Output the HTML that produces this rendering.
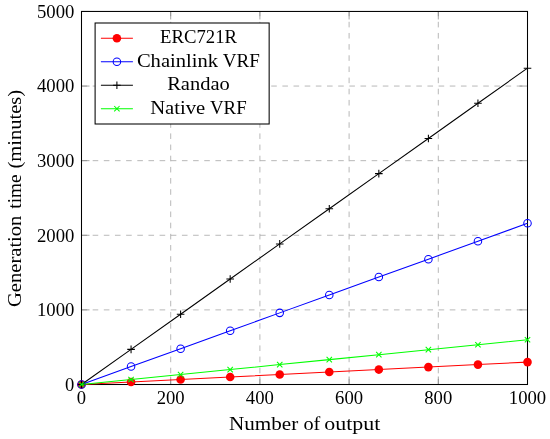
<!DOCTYPE html>
<html lang="en"><head><meta charset="utf-8"><title>Generation time</title>
<style>html,body{margin:0;padding:0;background:#fff}svg{display:block}text{font-family:"Liberation Serif",serif;fill:#000}</style></head><body>
<svg width="550" height="439" viewBox="0 0 550 439">
<rect width="550" height="439" fill="#fff"/>
<path d="M170.70 384.50V11.45M259.90 384.50V11.45M349.10 384.50V11.45M438.30 384.50V11.45M81.50 309.89H527.50M81.50 235.28H527.50M81.50 160.67H527.50M81.50 86.06H527.50" fill="none" stroke="#9c9c9c" stroke-width="0.72" stroke-dasharray="5.58 5.58"/>
<path d="M81.50 384.50v-8M81.50 11.45v8M170.70 384.50v-8M170.70 11.45v8M259.90 384.50v-8M259.90 11.45v8M349.10 384.50v-8M349.10 11.45v8M438.30 384.50v-8M438.30 11.45v8M527.50 384.50v-8M527.50 11.45v8M81.50 384.50h8M527.50 384.50h-8M81.50 309.89h8M527.50 309.89h-8M81.50 235.28h8M527.50 235.28h-8M81.50 160.67h8M527.50 160.67h-8M81.50 86.06h8M527.50 86.06h-8M81.50 11.45h8M527.50 11.45h-8" fill="none" stroke="#6a6a6a" stroke-width="0.6"/>
<rect x="81.5" y="11.45" width="446.0" height="373.05" fill="none" stroke="#000" stroke-width="1.05"/>
<polyline points="81.50,384.50 131.06,382.01 180.61,379.53 230.17,377.04 279.72,374.55 329.28,372.06 378.83,369.58 428.39,367.09 477.94,364.60 527.50,362.12" fill="none" stroke="#ff0000" stroke-width="1.05"/>
<g><circle cx="81.50" cy="384.50" r="4.3" fill="#ff0000"/><circle cx="131.06" cy="382.01" r="4.3" fill="#ff0000"/><circle cx="180.61" cy="379.53" r="4.3" fill="#ff0000"/><circle cx="230.17" cy="377.04" r="4.3" fill="#ff0000"/><circle cx="279.72" cy="374.55" r="4.3" fill="#ff0000"/><circle cx="329.28" cy="372.06" r="4.3" fill="#ff0000"/><circle cx="378.83" cy="369.58" r="4.3" fill="#ff0000"/><circle cx="428.39" cy="367.09" r="4.3" fill="#ff0000"/><circle cx="477.94" cy="364.60" r="4.3" fill="#ff0000"/><circle cx="527.50" cy="362.12" r="4.3" fill="#ff0000"/></g>
<polyline points="81.50,384.50 131.06,366.59 180.61,348.69 230.17,330.78 279.72,312.87 329.28,294.97 378.83,277.06 428.39,259.16 477.94,241.25 527.50,223.34" fill="none" stroke="#0000ff" stroke-width="1.05"/>
<g><circle cx="81.50" cy="384.50" r="3.75" fill="none" stroke="#0000ff" stroke-width="1.05"/><circle cx="131.06" cy="366.59" r="3.75" fill="none" stroke="#0000ff" stroke-width="1.05"/><circle cx="180.61" cy="348.69" r="3.75" fill="none" stroke="#0000ff" stroke-width="1.05"/><circle cx="230.17" cy="330.78" r="3.75" fill="none" stroke="#0000ff" stroke-width="1.05"/><circle cx="279.72" cy="312.87" r="3.75" fill="none" stroke="#0000ff" stroke-width="1.05"/><circle cx="329.28" cy="294.97" r="3.75" fill="none" stroke="#0000ff" stroke-width="1.05"/><circle cx="378.83" cy="277.06" r="3.75" fill="none" stroke="#0000ff" stroke-width="1.05"/><circle cx="428.39" cy="259.16" r="3.75" fill="none" stroke="#0000ff" stroke-width="1.05"/><circle cx="477.94" cy="241.25" r="3.75" fill="none" stroke="#0000ff" stroke-width="1.05"/><circle cx="527.50" cy="223.34" r="3.75" fill="none" stroke="#0000ff" stroke-width="1.05"/></g>
<polyline points="81.50,384.50 131.06,349.35 180.61,314.20 230.17,279.05 279.72,243.90 329.28,208.75 378.83,173.60 428.39,138.45 477.94,103.30 527.50,68.15" fill="none" stroke="#000000" stroke-width="1.05"/>
<g><path d="M77.70 384.50h7.6M81.50 380.70v7.6" stroke="#000000" stroke-width="1.05" fill="none"/><path d="M127.26 349.35h7.6M131.06 345.55v7.6" stroke="#000000" stroke-width="1.05" fill="none"/><path d="M176.81 314.20h7.6M180.61 310.40v7.6" stroke="#000000" stroke-width="1.05" fill="none"/><path d="M226.37 279.05h7.6M230.17 275.25v7.6" stroke="#000000" stroke-width="1.05" fill="none"/><path d="M275.92 243.90h7.6M279.72 240.10v7.6" stroke="#000000" stroke-width="1.05" fill="none"/><path d="M325.48 208.75h7.6M329.28 204.95v7.6" stroke="#000000" stroke-width="1.05" fill="none"/><path d="M375.03 173.60h7.6M378.83 169.80v7.6" stroke="#000000" stroke-width="1.05" fill="none"/><path d="M424.59 138.45h7.6M428.39 134.65v7.6" stroke="#000000" stroke-width="1.05" fill="none"/><path d="M474.14 103.30h7.6M477.94 99.50v7.6" stroke="#000000" stroke-width="1.05" fill="none"/><path d="M523.70 68.15h7.6M527.50 64.35v7.6" stroke="#000000" stroke-width="1.05" fill="none"/></g>
<polyline points="81.50,384.50 131.06,379.53 180.61,374.55 230.17,369.58 279.72,364.60 329.28,359.63 378.83,354.66 428.39,349.68 477.94,344.71 527.50,339.73" fill="none" stroke="#00ff00" stroke-width="1.05"/>
<g><path d="M78.80 381.80l5.4 5.4M78.80 387.20l5.4 -5.4" stroke="#00ff00" stroke-width="1.05" fill="none"/><path d="M128.36 376.83l5.4 5.4M128.36 382.23l5.4 -5.4" stroke="#00ff00" stroke-width="1.05" fill="none"/><path d="M177.91 371.85l5.4 5.4M177.91 377.25l5.4 -5.4" stroke="#00ff00" stroke-width="1.05" fill="none"/><path d="M227.47 366.88l5.4 5.4M227.47 372.28l5.4 -5.4" stroke="#00ff00" stroke-width="1.05" fill="none"/><path d="M277.02 361.90l5.4 5.4M277.02 367.30l5.4 -5.4" stroke="#00ff00" stroke-width="1.05" fill="none"/><path d="M326.58 356.93l5.4 5.4M326.58 362.33l5.4 -5.4" stroke="#00ff00" stroke-width="1.05" fill="none"/><path d="M376.13 351.96l5.4 5.4M376.13 357.36l5.4 -5.4" stroke="#00ff00" stroke-width="1.05" fill="none"/><path d="M425.69 346.98l5.4 5.4M425.69 352.38l5.4 -5.4" stroke="#00ff00" stroke-width="1.05" fill="none"/><path d="M475.24 342.01l5.4 5.4M475.24 347.41l5.4 -5.4" stroke="#00ff00" stroke-width="1.05" fill="none"/><path d="M524.80 337.03l5.4 5.4M524.80 342.43l5.4 -5.4" stroke="#00ff00" stroke-width="1.05" fill="none"/></g>
<rect x="95.1" y="23.0" width="174.04999999999998" height="101.0" fill="#fff" stroke="#000" stroke-width="1.05"/>
<path d="M100.9 38.2H132.9" stroke="#ff0000" stroke-width="1.05" fill="none"/>
<circle cx="116.90" cy="38.20" r="4.3" fill="#ff0000"/>
<text x="160.0" y="43.1" font-size="19.1" textLength="77.0" lengthAdjust="spacingAndGlyphs">ERC721R</text>
<path d="M100.9 61.7H132.9" stroke="#0000ff" stroke-width="1.05" fill="none"/>
<circle cx="116.90" cy="61.70" r="3.75" fill="none" stroke="#0000ff" stroke-width="1.05"/>
<text x="136.9" y="66.6" font-size="19.1" textLength="81.1" lengthAdjust="spacingAndGlyphs">Chainlink</text>
<text x="222.7" y="66.6" font-size="19.1" textLength="37.1" lengthAdjust="spacingAndGlyphs">VRF</text>
<path d="M100.9 85.2H132.9" stroke="#000000" stroke-width="1.05" fill="none"/>
<path d="M113.10 85.20h7.6M116.90 81.40v7.6" stroke="#000000" stroke-width="1.05" fill="none"/>
<text x="167.2" y="90.1" font-size="19.1" textLength="62.6" lengthAdjust="spacingAndGlyphs">Randao</text>
<path d="M100.9 108.7H132.9" stroke="#00ff00" stroke-width="1.05" fill="none"/>
<path d="M114.20 106.00l5.4 5.4M114.20 111.40l5.4 -5.4" stroke="#00ff00" stroke-width="1.05" fill="none"/>
<text x="150.2" y="113.6" font-size="19.1" textLength="55.1" lengthAdjust="spacingAndGlyphs">Native</text>
<text x="210.0" y="113.6" font-size="19.1" textLength="36.7" lengthAdjust="spacingAndGlyphs">VRF</text>
<text x="76.83" y="403.9" font-size="18.7" textLength="9.3" lengthAdjust="spacingAndGlyphs">0</text>
<text x="156.67" y="403.9" font-size="18.7" textLength="28.0" lengthAdjust="spacingAndGlyphs">200</text>
<text x="245.87" y="403.9" font-size="18.7" textLength="28.0" lengthAdjust="spacingAndGlyphs">400</text>
<text x="335.07" y="403.9" font-size="18.7" textLength="28.0" lengthAdjust="spacingAndGlyphs">600</text>
<text x="424.28" y="403.9" font-size="18.7" textLength="28.0" lengthAdjust="spacingAndGlyphs">800</text>
<text x="508.80" y="403.9" font-size="18.7" textLength="37.4" lengthAdjust="spacingAndGlyphs">1000</text>
<text x="65.05" y="390.75" font-size="18.7" textLength="9.3" lengthAdjust="spacingAndGlyphs">0</text>
<text x="37.00" y="316.14" font-size="18.7" textLength="37.4" lengthAdjust="spacingAndGlyphs">1000</text>
<text x="37.00" y="241.53" font-size="18.7" textLength="37.4" lengthAdjust="spacingAndGlyphs">2000</text>
<text x="37.00" y="166.92" font-size="18.7" textLength="37.4" lengthAdjust="spacingAndGlyphs">3000</text>
<text x="37.00" y="92.31" font-size="18.7" textLength="37.4" lengthAdjust="spacingAndGlyphs">4000</text>
<text x="37.00" y="17.70" font-size="18.7" textLength="37.4" lengthAdjust="spacingAndGlyphs">5000</text>
<text x="229.0" y="430.45" font-size="19.1" textLength="69.2" lengthAdjust="spacingAndGlyphs">Number</text>
<text x="303.4" y="430.45" font-size="19.1" textLength="16.9" lengthAdjust="spacingAndGlyphs">of</text>
<text x="324.2" y="430.45" font-size="19.1" textLength="56.1" lengthAdjust="spacingAndGlyphs">output</text>
<g transform="translate(20.9 0) rotate(-90)">
<text x="-307.0" y="0" font-size="19.1" textLength="91.4" lengthAdjust="spacingAndGlyphs">Generation</text>
<text x="-208.7" y="0" font-size="19.1" textLength="34.4" lengthAdjust="spacingAndGlyphs">time</text>
<text x="-168.5" y="0" font-size="19.1" textLength="78.6" lengthAdjust="spacingAndGlyphs">(minutes)</text>
</g>
</svg></body></html>
